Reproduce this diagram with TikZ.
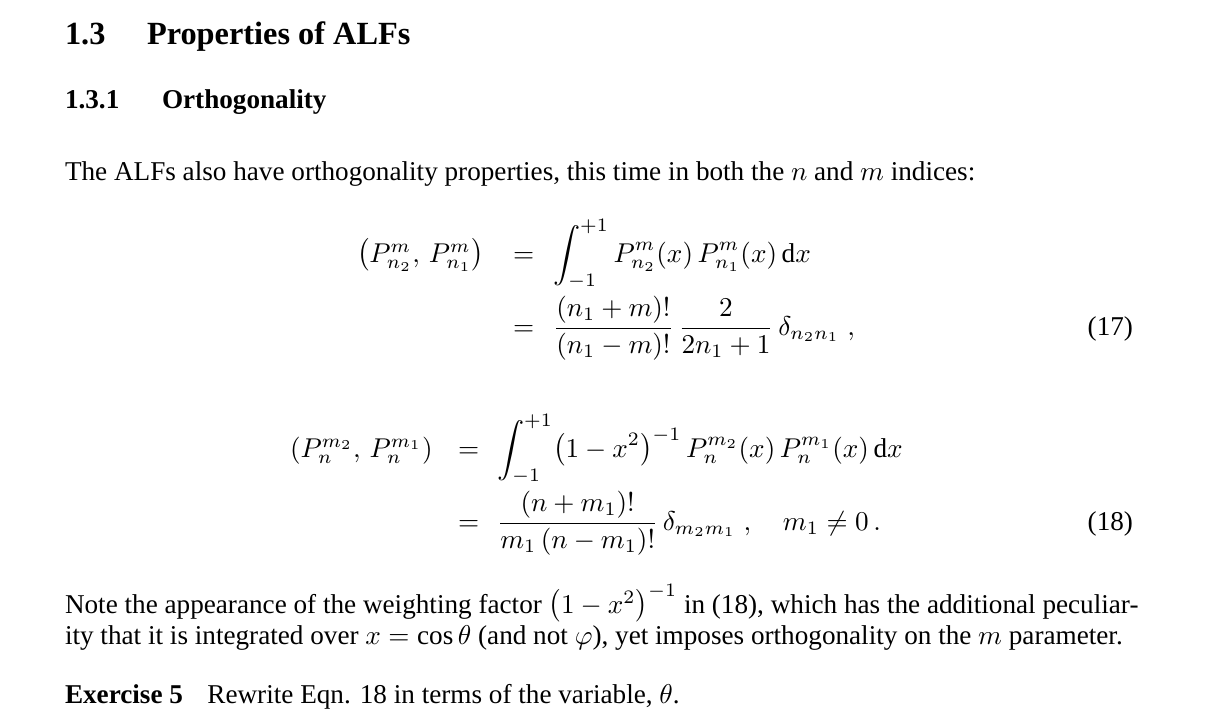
\documentclass[tikz,border=0pt]{standalone}
\usepackage{fontspec}
\setmainfont{Liberation Serif}
\begin{document}
\begin{tikzpicture}[x=0.368pt,y=-0.368pt,every node/.style={inner sep=0pt,outer sep=0pt,anchor=base west,font=\fontsize{10}{12}\selectfont}]
\useasboundingbox (0,0) rectangle (1207,725);
\node (s1) at (65,45) {\fontsize{11.9}{14}\selectfont\bfseries 1.3};
\node (s1t) at (147,45) {\fontsize{11.9}{14}\selectfont\bfseries Properties of ALFs};
\node (s2) at (65,108) {\fontsize{10}{12}\selectfont\bfseries 1.3.1};
\node (s2t) at (162,108) {\fontsize{10}{12}\selectfont\bfseries Orthogonality};
\node (p1) at (65,180) {The ALFs also have orthogonality properties, this time in both the $n$ and $m$ indices:};
% eq 17
\node (a1) at (357,262) {$\bigl(P^m_{n_2},\,P^m_{n_1}\bigr)$};
\node (e1) at (513,262) {$=$};
\node (r1) at (553,262) {$\displaystyle\int_{-1}^{+1} P^m_{n_2}(x)\,P^m_{n_1}(x)\,\mathrm{d}x$};
\node (e2) at (513,335) {$=$};
\node (r2) at (553,335) {$\displaystyle\frac{(n_1+m)!}{(n_1-m)!}\,\frac{2}{2n_1+1}\,\delta_{n_2n_1}\;,$};
\node[anchor=base east] (n17) at (1133,335) {(17)};
% eq 18
\node (a3) at (290,457) {$(P^{m_2}_n,\,P^{m_1}_n)$};
\node (e3) at (458,457) {$=$};
\node (r3) at (497,457) {$\displaystyle\int_{-1}^{+1} \bigl(1-x^2\bigr)^{-1}\,P^{m_2}_n(x)\,P^{m_1}_n(x)\,\mathrm{d}x$};
\node (e4) at (458,530) {$=$};
\node (r4) at (497,530) {$\displaystyle\frac{(n+m_1)!}{m_1\,(n-m_1)!}\,\delta_{m_2m_1}\;,\quad m_1\neq0\,.$};
\node[anchor=base east] (n18) at (1133,530) {(18)};
\node (p2) at (65,613) {Note the appearance of the weighting factor $\bigl(1-x^2\bigr)^{-1}$ in (18), which has the additional peculiar-};
\node (p3) at (65,644) {ity that it is integrated over $x=\cos\theta$ (and not $\varphi$), yet imposes orthogonality on the $m$ parameter.};
\node (ex) at (65,703) {\textbf{Exercise 5}\hspace{0.9em}Rewrite Eqn. 18 in terms of the variable, $\theta$.};
\end{tikzpicture}
\end{document}
